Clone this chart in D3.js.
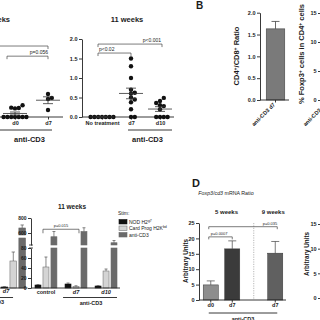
<!DOCTYPE html>
<html>
<head>
<meta charset="utf-8">
<script src="https://cdn.jsdelivr.net/npm/d3@7"></script>
<style>
body { margin: 0; background: #fff; }
svg { display: block; font-family: "Liberation Sans", Arial, sans-serif; }
text { fill: #1a1a1a; }
</style>
</head>
<body>
<script>
// ---- panel A (scatter, ratio per mouse)
const wk5Cats = ["No treatment", "d0", "d7"];
const wk5D0 = [0, 0, 0, 0, 0, 0, 0, 0.22, 0.23, 0.24, 0.3];
const wk5D7 = [0.59, 0.49, 0.46, 0.18];
const wk11Cats = ["No treatment", "d7", "d10"];
const wk11None = [0, 0, 0, 0, 0, 0, 0];
const wk11D7 = [1.5, 1.3, 1.0, 0.7, 0.62, 0.6, 0.5, 0.45, 0.38, 0.2, 0, 0];
const wk11D10 = [0.49, 0.41, 0.36, 0.3, 0.28, 0.2, 0, 0, 0, 0];
const ticksA = [0, 0.5, 1.0, 1.5, 2.0];

// ---- panel B
const bCats = ["anti-CD3 d7"];
const bValues = [1.63];
const bErr = [0.17];
const ticksB = [0, 0.5, 1.0, 1.5, 2.0];
const ticksB2 = [0, 5, 10, 15];

// ---- panel C (broken axis bars)
const cGroups = ["control", "d7", "d10"];
const c11Nod = [6, 8, 4], c11NodErr = [1, 2, 0.8];
const c11Card = [42, 3, 34], c11CardErr = [20, 1.5, 4];
const c11Anti = [550, 620, 470], c11AntiErr = [70, 50, 30];
const c5Groups = ["d0", "d7"];
const c5Nod = [2], c5NodErr = [0.8];      // d7 only (d0 is off the crop)
const c5Card = [54], c5CardErr = [18];
const c5Anti = [517], c5AntiErr = [50];
const stimNames = ["NOD H2", "Card Prog H2K", "anti-CD3"];
const stimSup = ["g7", "bd", ""];
const stimColors = ["#111", "#d4d4d4", "#6a6a6a"];
const ticksCLow = [0, 20, 40, 60, 80];
const ticksCHigh = [600, 800];

// ---- panel D
const dKeys = ["5w d0", "5w d7", "gap", "9w d7"];
const dBars = ["5w d0", "5w d7", "9w d7"];
const dLabels = ["d0", "d7", "d7"];
const dValues = [4.9, 16.6, 15.2];
const dErr = [1.3, 2.6, 3.8];
const dColors = ["#8d8d8d", "#3b3b3b", "#606060"];
const ticksD = [0, 5, 10, 15, 20, 25];
const ticksD2 = [0, 5, 10, 15];

const W = 320, H = 320;
const ink = "#222";

const svg = d3.select("body").append("svg").attr("width", W).attr("height", H);
svg.append("rect").attr("width", W).attr("height", H).attr("fill", "#fff");

function styleAxis(g, fs) {
    g.attr("font-size", null).attr("font-family", null);
    g.selectAll(".domain").attr("stroke", ink).attr("stroke-width", 0.9);
    g.selectAll(".tick line").attr("stroke", ink).attr("stroke-width", 0.9);
    g.selectAll(".tick text").attr("font-size", fs || 5.5).attr("font-weight", "bold").attr("fill", ink);
}

function txt(x, y, s, opts) {
    opts = opts || {};
    return svg.append("text")
        .attr("x", x).attr("y", y)
        .attr("text-anchor", opts.anchor || "middle")
        .attr("font-size", opts.size || 5.5)
        .attr("font-weight", opts.weight || "bold")
        .attr("font-style", opts.style || "normal")
        .text(s);
}

function hline(x1, x2, y, w) {
    svg.append("line").attr("x1", x1).attr("x2", x2).attr("y1", y).attr("y2", y)
        .attr("stroke", ink).attr("stroke-width", w || 0.9);
}

function bracket(x1, x2, y, drop, ends) {
    const p = d3.path();
    if (ends !== "right") { p.moveTo(x1, y + drop); p.lineTo(x1, y); } else p.moveTo(x1, y);
    p.lineTo(x2, y);
    p.lineTo(x2, y + drop);
    svg.append("path").attr("d", p.toString()).attr("fill", "none")
        .attr("stroke", "#444").attr("stroke-width", 0.7);
}

// simple column scatter placement (like a prism scatter)
function swarm(vals, y, cx, d) {
    const placed = [];
    vals.slice().sort((a, b) => a - b).forEach(v => {
        const py = y(v);
        for (let i = 0; ; i++) {
            const off = (i === 0 ? 0 : Math.ceil(i / 2) * (i % 2 ? 1 : -1)) * d / 2;
            const px = cx + off;
            if (placed.every(p => Math.hypot(p.x - px, p.y - py) >= d - 0.01)) {
                placed.push({ x: px, y: py });
                break;
            }
        }
    });
    return placed;
}

function scatterGroup(vals, x, y) {
    const pts = swarm(vals, y, x, 3.8);
    svg.append("g").selectAll("circle").data(pts).join("circle")
        .attr("cx", d => d.x).attr("cy", d => d.y).attr("r", 2.2).attr("fill", "#111");
    const m = d3.mean(vals);
    const sem = d3.deviation(vals) / Math.sqrt(vals.length);
    const g = svg.append("g").attr("stroke", "#333").attr("stroke-width", 0.8);
    g.append("line").attr("x1", x - 12).attr("x2", x + 12).attr("y1", y(m)).attr("y2", y(m));
    g.append("line").attr("x1", x).attr("x2", x).attr("y1", y(m + sem)).attr("y2", y(m - sem));
    [m + sem, m - sem].forEach(v => g.append("line")
        .attr("x1", x - 5).attr("x2", x + 5).attr("y1", y(v)).attr("y2", y(v)));
}

// ================= A =================
const yA = d3.scaleLinear().domain([0, 2]).range([117, 39]);
const x5 = d3.scalePoint().domain(wk5Cats).range([-18, 48]);
const x11 = d3.scalePoint().domain(wk11Cats).range([102, 160]);

txt(10, 21.5, "5 weeks", { anchor: "end", size: 7.5 });
txt(127, 21.5, "11 weeks", { size: 7.5 });

// 5 weeks x axis
const ax5 = svg.append("g").attr("transform", `translate(0,${yA(0)})`)
    .call(d3.axisBottom(x5).tickValues(["d0", "d7"]).tickSize(2.5).tickPadding(1.5));
styleAxis(ax5);
ax5.select(".domain").remove();
hline(0, 63, yA(0));

scatterGroup(wk5D0, x5("d0"), yA);
scatterGroup(wk5D7, x5("d7"), yA);

bracket(x5("No treatment") - 6, x5("d7"), yA(1.82), 3, "right");
bracket(x5("d0") - 8, x5("d7"), yA(1.56), 3);
txt(x5("d7"), yA(1.56) - 2.5, "p=0.056", { anchor: "end", size: 5, weight: "normal" });

hline(-5, x5("d7") + 4, 130);
txt((x5("d0") + x5("d7")) / 2 - 2, 142, "anti-CD3", { size: 7.5 });

// 11 weeks
const ay11 = svg.append("g").attr("transform", "translate(82,0)")
    .call(d3.axisLeft(yA).tickValues(ticksA).tickFormat(d3.format(".1f"))
        .tickSize(3).tickSizeOuter(0).tickPadding(1.5));
styleAxis(ay11);

const ax11 = svg.append("g").attr("transform", `translate(0,${yA(0)})`)
    .call(d3.axisBottom(x11).tickSize(2.5).tickPadding(1.5));
styleAxis(ax11);
ax11.select(".domain").remove();
hline(82, 174, yA(0));

scatterGroup(wk11None, x11("No treatment"), yA);
scatterGroup(wk11D7, x11("d7"), yA);
scatterGroup(wk11D10, x11("d10"), yA);

bracket(x11("No treatment") - 4, x11("d10") + 2, yA(1.87), 3);
txt(x11("d10") + 1, yA(1.87) - 2, "p<0.001", { anchor: "end", size: 5, weight: "normal" });
bracket(x11("No treatment") - 4, x11("d7"), yA(1.64), 3);
txt(x11("No treatment") - 3, yA(1.64) - 2, "p<0.02", { anchor: "start", size: 5, weight: "normal" });

hline(x11("d7") - 3, x11("d10") + 12, 130);
txt((x11("d7") + x11("d10")) / 2 + 2, 142, "anti-CD3", { size: 7.5 });

// ================= B =================
txt(196, 9, "B", { anchor: "start", size: 10 });
const yB = d3.scaleLinear().domain([0, 2]).range([100, 12.7]);
const xB = d3.scaleBand().domain(bCats).range([263, 288]).padding(0.15);

const ayB = svg.append("g").attr("transform", "translate(260,0)")
    .call(d3.axisLeft(yB).tickValues(ticksB).tickFormat(d3.format(".1f"))
        .tickSize(3).tickSizeOuter(0).tickPadding(1.5));
styleAxis(ayB);

svg.append("g").selectAll("rect").data(bCats).join("rect")
    .attr("x", d => xB(d)).attr("width", xB.bandwidth())
    .attr("y", (d, i) => yB(bValues[i])).attr("height", (d, i) => yB(0) - yB(bValues[i]))
    .attr("fill", "#7a7a7a").attr("stroke", "#444").attr("stroke-width", 0.6);
bCats.forEach((c, i) => {
    const cx = xB(c) + xB.bandwidth() / 2;
    const top = yB(bValues[i] + bErr[i]);
    svg.append("line").attr("x1", cx).attr("x2", cx).attr("y1", yB(bValues[i])).attr("y2", top)
        .attr("stroke", "#444").attr("stroke-width", 0.8);
    svg.append("line").attr("x1", cx - 4).attr("x2", cx + 4).attr("y1", top).attr("y2", top)
        .attr("stroke", "#444").attr("stroke-width", 0.8);
    svg.append("line").attr("x1", cx).attr("x2", cx).attr("y1", yB(0)).attr("y2", yB(0) + 2.5)
        .attr("stroke", ink).attr("stroke-width", 0.9);
    txt(cx, yB(0) + 5, c, { anchor: "end", size: 5.5 })
        .attr("transform", `rotate(-45,${cx},${yB(0) + 5})`);
});
hline(260, 289, yB(0));

const bLab = svg.append("text").attr("transform", "translate(239,56) rotate(-90)")
    .attr("text-anchor", "middle").attr("font-size", 7.5).attr("font-weight", "bold");
bLab.append("tspan").text("CD4");
bLab.append("tspan").attr("dy", -2.5).attr("font-size", 5).text("+");
bLab.append("tspan").attr("dy", 2.5).text("/CD8");
bLab.append("tspan").attr("dy", -2.5).attr("font-size", 5).text("+");
bLab.append("tspan").attr("dy", 2.5).text(" Ratio");

// next panel (cut at right edge)
const yB2 = d3.scaleLinear().domain([0, 15]).range([100, 13]);
const ayB2 = svg.append("g").attr("transform", "translate(321,0)")
    .call(d3.axisLeft(yB2).tickValues(ticksB2).tickSize(3).tickSizeOuter(0).tickPadding(1.5));
styleAxis(ayB2);
const b2Lab = svg.append("text").attr("transform", "translate(304,54) rotate(-90)")
    .attr("text-anchor", "middle").attr("font-size", 7.5).attr("font-weight", "bold");
b2Lab.append("tspan").text("% Foxp3");
b2Lab.append("tspan").attr("dy", -2.5).attr("font-size", 5).text("+");
b2Lab.append("tspan").attr("dy", 2.5).text(" cells in CD4");
b2Lab.append("tspan").attr("dy", -2.5).attr("font-size", 5).text("+");
b2Lab.append("tspan").attr("dy", 2.5).text(" cells");
txt(327, 105, "anti-CD3 d7", { anchor: "end", size: 5.5 })
    .attr("transform", "rotate(-45,327,105)");

// ================= C =================
function brokenBars(rows, xg, xs, lo, hi) {
    const loMax = lo.domain()[1], hiMin = hi.domain()[0];
    const yOf = v => v <= loMax ? lo(v) : hi(Math.max(v, hiMin));
    rows.forEach(r => {
        r.vals.forEach((v, k) => {
            const x0 = xg(r.group) + xs(k);
            const w = xs.bandwidth();
            const segs = v <= loMax ? [[lo(v), lo(0)]] : [[lo(loMax), lo(0)], [hi(v), hi(hiMin)]];
            segs.forEach(s => svg.append("rect").attr("x", x0).attr("width", w)
                .attr("y", s[0]).attr("height", s[1] - s[0])
                .attr("fill", stimColors[k]).attr("stroke", k === 1 ? "#777" : stimColors[k])
                .attr("stroke-width", 0.6));
            const top = yOf(v + r.errs[k]);
            const cx = x0 + w / 2;
            svg.append("line").attr("x1", cx).attr("x2", cx).attr("y1", yOf(v)).attr("y2", top)
                .attr("stroke", "#555").attr("stroke-width", 0.7);
            svg.append("line").attr("x1", cx - w / 4).attr("x2", cx + w / 4).attr("y1", top).attr("y2", top)
                .attr("stroke", "#555").attr("stroke-width", 0.7);
        });
    });
}

const stimIdx = [0, 1, 2];

// left (5 weeks, mostly cut)
const lo5 = d3.scaleLinear().domain([0, 100]).range([288, 238]);
const hi5 = d3.scaleLinear().domain([400, 800]).range([235, 211]);
const xg5 = d3.scaleBand().domain(c5Groups).range([-37, 30]).paddingInner(0.27).paddingOuter(0.133);
const xs5 = d3.scaleBand().domain(stimIdx).range([0, xg5.bandwidth()]).paddingInner(0.25);
brokenBars([{ group: "d7", vals: [c5Nod[0], c5Card[0], c5Anti[0]], errs: [c5NodErr[0], c5CardErr[0], c5AntiErr[0]] }],
    xg5, xs5, lo5, hi5);
hline(-2, xg5("d7") + xg5.bandwidth() + 2, 288);
txt(xg5("d7") + 5, 293, "d7", { style: "italic" });
hline(-2, xg5("d7") + 12, 297.5);
txt(4, 304, "anti-CD3", { anchor: "end" });

// 11 weeks
const loC = d3.scaleLinear().domain([0, 80]).range([288, 248]);
const hiC = d3.scaleLinear().domain([440, 800]).range([245, 218]);
const xgC = d3.scaleBand().domain(cGroups).range([31, 121]).paddingInner(0.27).paddingOuter(0.133);
const xsC = d3.scaleBand().domain(stimIdx).range([0, xgC.bandwidth()]).paddingInner(0.25);

txt(72, 209, "11 weeks", { size: 6.5 });

const ayLo = svg.append("g").attr("transform", "translate(31,0)")
    .call(d3.axisLeft(loC).tickValues(ticksCLow).tickSize(3).tickSizeOuter(0).tickPadding(1.5));
styleAxis(ayLo, 5);
const ayHi = svg.append("g").attr("transform", "translate(31,0)")
    .call(d3.axisLeft(hiC).tickValues(ticksCHigh).tickSize(3).tickSizeOuter(0).tickPadding(1.5));
styleAxis(ayHi, 5);
[245, 248].forEach(y => hline(29, 33, y, 0.8));

const cRows = cGroups.map((g, i) => ({
    group: g,
    vals: [c11Nod[i], c11Card[i], c11Anti[i]],
    errs: [c11NodErr[i], c11CardErr[i], c11AntiErr[i]]
}));
brokenBars(cRows, xgC, xsC, loC, hiC);
hline(31, 120, 288);

cGroups.forEach(g => {
    const cx = xgC(g) + xgC.bandwidth() / 2;
    txt(cx, 294, g, { style: g === "control" ? "normal" : "italic" });
});
hline(xgC("d7") - 2, xgC("d10") + xgC.bandwidth(), 297.5);
txt((xgC("d7") + xgC("d10") + xgC.bandwidth()) / 2, 304.5, "anti-CD3");

const brL = xgC("control") + xsC(1), brR = xgC("d7") + xsC(1) + xsC.bandwidth();
bracket(brL, brR, hiC(650), 4);
txt((brL + brR) / 2, hiC(650) - 2, "p=0.015", { size: 4, weight: "normal" });

// legend
txt(118, 215, "Stim:", { anchor: "start", size: 5, weight: "normal" }).attr("fill", "#444");
stimNames.forEach((n, i) => {
    const y = 219.5 + i * 6.5;
    svg.append("rect").attr("x", 119).attr("y", y).attr("width", 8).attr("height", 4.5)
        .attr("fill", stimColors[i]).attr("stroke", i === 1 ? "#777" : stimColors[i]).attr("stroke-width", 0.6);
    const t = txt(129, y + 4.2, n, { anchor: "start", size: 5, weight: "normal" }).attr("fill", "#333");
    if (stimSup[i]) t.append("tspan").attr("dy", -2).attr("font-size", 3.5).text(stimSup[i]);
});

// ================= D =================
txt(192, 187, "D", { anchor: "start", size: 11 });
const yD = d3.scaleLinear().domain([0, 25]).range([300, 223]);
const xD = d3.scaleBand().domain(dKeys).range([200, 286]).paddingInner(0.3).paddingOuter(0.15);
const cD = k => xD(k) + xD.bandwidth() / 2;

const dTitle = svg.append("text").attr("x", 226).attr("y", 195).attr("text-anchor", "middle")
    .attr("font-size", 5.3);
dTitle.append("tspan").attr("font-style", "italic").text("Foxp3/cd3");
dTitle.append("tspan").text(" mRNA Ratio");
txt((cD("5w d0") + cD("5w d7")) / 2 + 5, 214, "5 weeks", { size: 6 });
txt(cD("9w d7") - 2, 214, "9 weeks", { size: 6 });

const ayD = svg.append("g").attr("transform", "translate(199,0)")
    .call(d3.axisLeft(yD).tickValues(ticksD).tickSize(3).tickSizeOuter(0).tickPadding(1.5));
styleAxis(ayD);
svg.append("text").attr("transform", "translate(188,261) rotate(-90)")
    .attr("text-anchor", "middle").attr("font-size", 6.3).attr("font-weight", "bold")
    .text("Arbitrary Units");

svg.append("g").selectAll("rect").data(dBars).join("rect")
    .attr("x", d => xD(d)).attr("width", xD.bandwidth())
    .attr("y", (d, i) => yD(dValues[i])).attr("height", (d, i) => yD(0) - yD(dValues[i]))
    .attr("fill", (d, i) => dColors[i]).attr("stroke", "#333").attr("stroke-width", 0.5);
dBars.forEach((k, i) => {
    const cx = cD(k), top = yD(dValues[i] + dErr[i]);
    svg.append("line").attr("x1", cx).attr("x2", cx).attr("y1", yD(dValues[i])).attr("y2", top)
        .attr("stroke", "#444").attr("stroke-width", 0.7);
    svg.append("line").attr("x1", cx - 4).attr("x2", cx + 4).attr("y1", top).attr("y2", top)
        .attr("stroke", "#444").attr("stroke-width", 0.7);
    svg.append("line").attr("x1", cx).attr("x2", cx).attr("y1", yD(0)).attr("y2", yD(0) + 2.5)
        .attr("stroke", ink).attr("stroke-width", 0.9);
    txt(cx, 307, dLabels[i], { size: 5.5 });
});
hline(199, 286, yD(0));
svg.append("line").attr("x1", cD("gap")).attr("x2", cD("gap")).attr("y1", yD(25)).attr("y2", yD(0))
    .attr("stroke", "#888").attr("stroke-width", 0.6).attr("stroke-dasharray", "1.2,1.2");

bracket(cD("5w d0") - 2, cD("9w d7") + 2, yD(23.8), 2.5);
txt(cD("9w d7") + 2, yD(23.8) - 1.5, "p=0.035", { anchor: "end", size: 4, weight: "normal" });
bracket(cD("5w d0") - 2, cD("5w d7"), yD(20.5), 2.5);
txt(cD("5w d0"), yD(20.5) - 1.5, "p=0.0007", { anchor: "start", size: 4, weight: "normal" });

hline(cD("5w d0") - 2, cD("9w d7") + 2, 313);
txt((cD("5w d0") + cD("9w d7")) / 2, 321, "anti-CD3");

// next panel (cut at right edge)
const yD2 = d3.scaleLinear().domain([0, 15]).range([298, 224]);
const ayD2 = svg.append("g").attr("transform", "translate(321,0)")
    .call(d3.axisLeft(yD2).tickValues(ticksD2).tickSize(3).tickSizeOuter(0).tickPadding(1.5));
styleAxis(ayD2);
svg.append("text").attr("transform", "translate(309,254) rotate(-90)")
    .attr("text-anchor", "middle").attr("font-size", 6.3).attr("font-weight", "bold")
    .text("Arbitrary Units");
</script>
</body>
</html>
